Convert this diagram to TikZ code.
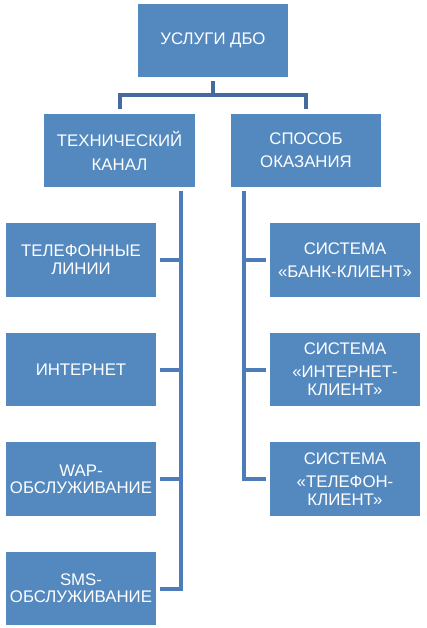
\documentclass[tikz,border=0pt]{standalone}
\usepackage{fontspec}
\setmainfont{Liberation Sans}
\definecolor{boxblue}{RGB}{84,137,192}
\definecolor{lineblue}{RGB}{77,125,184}
\definecolor{topline}{RGB}{70,106,157}
\tikzset{
  box/.style={rectangle, fill=boxblue, text=white, align=center, inner sep=0pt,
    minimum width=150pt, minimum height=73pt, font=\fontsize{16.8}{24}\selectfont},
  tight/.style={font=\fontsize{16.8}{18}\selectfont},
  conn/.style={draw=lineblue, line width=4pt},
  topconn/.style={draw=topline, line width=4pt}
}
\begin{document}
\begin{tikzpicture}[x=1pt,y=-1pt]
\useasboundingbox (0,0) rectangle (427,628);
% nodes
\node[box] (top) at (213,40.5) {УСЛУГИ ДБО};
\node[box, minimum width=151pt] (tech) at (119.5,150.5) {ТЕХНИЧЕСКИЙ\\КАНАЛ};
\node[box, font=\fontsize{16.8}{23}\selectfont] (way) at (306,150.5) {СПОСОБ\\ОКАЗАНИЯ};
\node[box, tight, minimum height=74pt] (tel) at (81,260) {ТЕЛЕФОННЫЕ\\ЛИНИИ};
\node[box] (inet) at (81,369.5) {ИНТЕРНЕТ};
\node[box, minimum height=74pt, font=\fontsize{16.8}{17}\selectfont] (wap) at (81,479) {WAP-\\ОБСЛУЖИВАНИЕ};
\node[box, font=\fontsize{16.8}{17}\selectfont] (sms) at (81,588.5) {SMS-\\ОБСЛУЖИВАНИЕ};
\node[box, minimum height=74pt, font=\fontsize{16.8}{23}\selectfont] (bk) at (345,260) {СИСТЕМА\\«БАНК-КЛИЕНТ»};
\node[box, tight] (ik) at (345,369.5) {СИСТЕМА\\[5pt]«ИНТЕРНЕТ-\\КЛИЕНТ»};
\node[box, tight, minimum height=74pt] (tk) at (345,479) {СИСТЕМА\\[5pt]«ТЕЛЕФОН-\\КЛИЕНТ»};
% junctions
\coordinate (j) at (213,95);
\coordinate (lsTop) at (181,191);
\coordinate (rsTop) at (244,191);
% top connectors
\draw[topconn] ([yshift=-4pt]top.south) -- (j);
\draw[topconn] ([yshift=5pt]tech.north) |- (j) -| ([yshift=5pt]way.north);
% left spine
\draw[conn] (lsTop) |- ([xshift=4pt]sms.east);
\draw[conn] ([xshift=4pt]tel.east) -- (tel.east -| lsTop);
\draw[conn] ([xshift=4pt]inet.east) -- (inet.east -| lsTop);
\draw[conn] ([xshift=4pt]wap.east) -- (wap.east -| lsTop);
% right spine
\draw[conn] (rsTop) |- ([xshift=-4pt]tk.west);
\draw[conn] ([xshift=-4pt]bk.west) -- (bk.west -| rsTop);
\draw[conn] ([xshift=-4pt]ik.west) -- (ik.west -| rsTop);
\end{tikzpicture}
\end{document}
